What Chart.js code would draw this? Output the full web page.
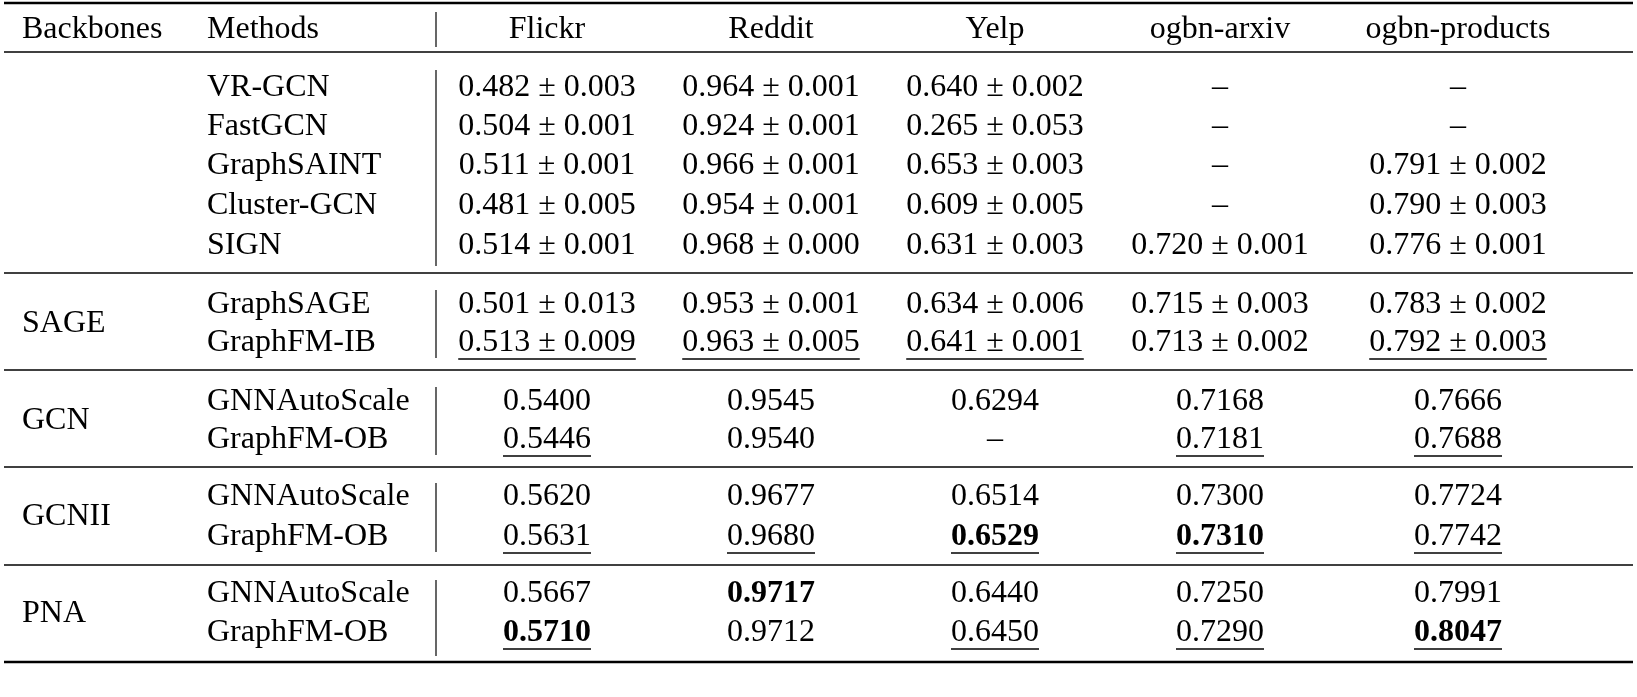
<!DOCTYPE html>
<html>
<head>
<meta charset="utf-8">
<script src="https://cdn.jsdelivr.net/npm/chart.js@4/dist/chart.umd.min.js"></script>
<style>
  html, body { margin: 0; padding: 0; background: #fff; }
  #wrap { width: 1637px; height: 697px; }
</style>
</head>
<body>
<div id="wrap"><canvas id="c"></canvas></div>
<script>
// table content
const datasetsNames = ['Flickr', 'Reddit', 'Yelp', 'ogbn-arxiv', 'ogbn-products'];
const backbones = ['', 'SAGE', 'GCN', 'GCNII', 'PNA'];
const methods = [
	['VR-GCN', 'FastGCN', 'GraphSAINT', 'Cluster-GCN', 'SIGN'],
	['GraphSAGE', 'GraphFM-IB'],
	['GNNAutoScale', 'GraphFM-OB'],
	['GNNAutoScale', 'GraphFM-OB'],
	['GNNAutoScale', 'GraphFM-OB']
];
// prefix "u:" underline, "b:" bold, "bu:" bold + underline
const values = [
	[
		['0.482 ± 0.003', '0.964 ± 0.001', '0.640 ± 0.002', '–', '–'],
		['0.504 ± 0.001', '0.924 ± 0.001', '0.265 ± 0.053', '–', '–'],
		['0.511 ± 0.001', '0.966 ± 0.001', '0.653 ± 0.003', '–', '0.791 ± 0.002'],
		['0.481 ± 0.005', '0.954 ± 0.001', '0.609 ± 0.005', '–', '0.790 ± 0.003'],
		['0.514 ± 0.001', '0.968 ± 0.000', '0.631 ± 0.003', '0.720 ± 0.001', '0.776 ± 0.001']
	],
	[
		['0.501 ± 0.013', '0.953 ± 0.001', '0.634 ± 0.006', '0.715 ± 0.003', '0.783 ± 0.002'],
		['u:0.513 ± 0.009', 'u:0.963 ± 0.005', 'u:0.641 ± 0.001', '0.713 ± 0.002', 'u:0.792 ± 0.003']
	],
	[
		['0.5400', '0.9545', '0.6294', '0.7168', '0.7666'],
		['u:0.5446', '0.9540', '–', 'u:0.7181', 'u:0.7688']
	],
	[
		['0.5620', '0.9677', '0.6514', '0.7300', '0.7724'],
		['u:0.5631', 'u:0.9680', 'bu:0.6529', 'bu:0.7310', 'u:0.7742']
	],
	[
		['0.5667', 'b:0.9717', '0.6440', '0.7250', '0.7991'],
		['bu:0.5710', '0.9712', 'u:0.6450', 'u:0.7290', 'bu:0.8047']
	]
];

// layout (pixel units of the scales)
const colX = [22, 207, 547, 771, 995, 1220, 1458];
const headerY = 30;
const groupRowY = [[88, 127, 166, 206, 246], [305, 343], [402, 440], [497, 537], [594, 633]];
const ruleY = [[3, 2.4], [52, 1.5], [273, 1.5], [370, 1.5], [467, 1.5], [565, 1.5], [662, 2.4]];
const sepX = 436;
const sepSpans = [[12, 47], [70, 266], [290, 358], [387, 455], [483, 552], [580, 656]];
const FONT = '"Liberation Serif", "DejaVu Serif", serif';
const SIZE = 32;

const cells = [];
cells.push({ x: colX[0], y: headerY, text: 'Backbones', align: 'left' });
cells.push({ x: colX[1], y: headerY, text: 'Methods', align: 'left' });
datasetsNames.forEach(function(n, i) {
	cells.push({ x: colX[i + 2], y: headerY, text: n, align: 'center' });
});
methods.forEach(function(group, g) {
	const ys = groupRowY[g];
	if (backbones[g]) {
		cells.push({ x: colX[0], y: (ys[0] + ys[ys.length - 1]) / 2, text: backbones[g], align: 'left' });
	}
	group.forEach(function(m, r) {
		cells.push({ x: colX[1], y: ys[r], text: m, align: 'left' });
		values[g][r].forEach(function(v, c) {
			let bold = false, under = false, t = v;
			const m2 = /^(b|u|bu):(.*)$/.exec(v);
			if (m2) { bold = m2[1].indexOf('b') >= 0; under = m2[1].indexOf('u') >= 0; t = m2[2]; }
			cells.push({ x: colX[c + 2], y: ys[r], text: t, align: 'center', bold: bold, under: under });
		});
	});
});

const tablePlugin = {
	id: 'tableText',
	afterDatasetsDraw(chart) {
		const ctx = chart.ctx;
		const xs = chart.scales.x, ys = chart.scales.y;
		ctx.save();
		ctx.strokeStyle = '#000';
		ruleY.forEach(function(r) {
			ctx.lineWidth = r[1];
			ctx.beginPath();
			ctx.moveTo(xs.getPixelForValue(4), ys.getPixelForValue(r[0]));
			ctx.lineTo(xs.getPixelForValue(1633), ys.getPixelForValue(r[0]));
			ctx.stroke();
		});
		ctx.lineWidth = 1.2;
		sepSpans.forEach(function(s) {
			ctx.beginPath();
			ctx.moveTo(xs.getPixelForValue(sepX), ys.getPixelForValue(s[0]));
			ctx.lineTo(xs.getPixelForValue(sepX), ys.getPixelForValue(s[1]));
			ctx.stroke();
		});
		const meta = chart.getDatasetMeta(0);
		ctx.fillStyle = '#000';
		ctx.textBaseline = 'middle';
		meta.data.forEach(function(el, i) {
			const c = cells[i];
			ctx.font = (c.bold ? 'bold ' : '') + SIZE + 'px ' + FONT;
			ctx.textAlign = c.align;
			ctx.fillText(c.text, el.x, el.y);
			if (c.under) {
				const w = ctx.measureText(c.text).width;
				const x0 = c.align === 'center' ? el.x - w / 2 : el.x;
				ctx.lineWidth = 1.4;
				ctx.beginPath();
				ctx.moveTo(x0, el.y + 16);
				ctx.lineTo(x0 + w, el.y + 16);
				ctx.stroke();
			}
		});
		ctx.restore();
	}
};

new Chart(document.getElementById('c'), {
	type: 'scatter',
	data: {
		datasets: [{
			data: cells.map(function(c) { return { x: c.x, y: c.y }; }),
			pointRadius: 0,
			pointHoverRadius: 0
		}]
	},
	options: {
		responsive: true,
		maintainAspectRatio: false,
		animation: false,
		layout: { padding: 0 },
		scales: {
			x: { type: 'linear', min: 0, max: 1637, display: false },
			y: { type: 'linear', min: 0, max: 697, reverse: true, display: false }
		},
		plugins: { legend: { display: false }, tooltip: { enabled: false } }
	},
	plugins: [tablePlugin]
});
</script>
</body>
</html>
